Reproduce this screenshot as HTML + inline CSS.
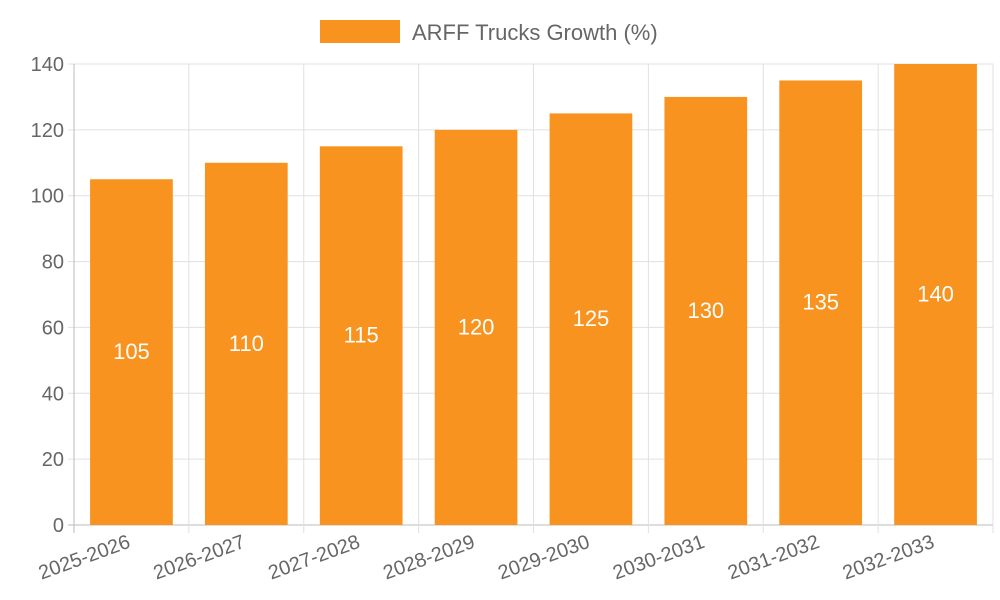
<!DOCTYPE html>
<html><head><meta charset="utf-8"><style>
html,body{margin:0;padding:0;background:#fff;}
svg{display:block;font-family:"Liberation Sans",sans-serif;}
</style></head><body>
<svg id="chart" width="1000" height="600">
<g>
<rect x="320" y="20" width="80" height="23" fill="#f7931e"/>
<text x="412" y="40" font-size="22" fill="#666">ARFF Trucks Growth (%)</text>
</g>
<g id="grid"></g><g id="bars"></g><g id="axes"></g>
</svg>
<script>
const categories=["2025-2026","2026-2027","2027-2028","2028-2029","2029-2030","2030-2031","2031-2032","2032-2033"];
const values=[105,110,115,120,125,130,135,140];
const yTicks=[0,20,40,60,80,100,120,140];
const L=74,R=993,T=64,B=525,yMax=140;
const ns="http://www.w3.org/2000/svg";
const bw=(R-L)/categories.length;
const y=v=>B-(v/yMax)*(B-T);
const x=i=>L+i*bw;
function mk(tag,attrs,parent,txt){const e=document.createElementNS(ns,tag);for(const k in attrs)e.setAttribute(k,attrs[k]);if(txt!==undefined)e.textContent=txt;parent.appendChild(e);return e;}
const grid=document.getElementById('grid'),bars=document.getElementById('bars'),axes=document.getElementById('axes');
yTicks.forEach(t=>{
 const l=mk('line',{x1:L-6,x2:R,y1:y(t),y2:y(t),stroke:t===0?'#bbb':'#e0e0e0','stroke-width':1},grid);
 
 
 const tx=mk('text',{x:L-10,y:y(t)+7,'text-anchor':'end','font-size':20,fill:'#666'},axes,String(t));
 
 
});
for(let i=0;i<=categories.length;i++){
 const l=mk('line',{x1:x(i),x2:x(i),y1:T,y2:B+8,stroke:i===0?'#bbb':'#e0e0e0','stroke-width':1},grid);
 
 
}
categories.forEach((c,i)=>{
 const w=bw*0.72,cx=x(i)+bw/2;
 const r=mk('rect',{x:cx-w/2,y:y(values[i]),width:w,height:B-y(values[i]),fill:'#f7931e'},bars);
 
 
 const v=mk('text',{x:cx,y:(y(values[i])+B)/2+7,'text-anchor':'middle','font-size':22,fill:'#fff'},bars,String(values[i]));
 
 
 const t=mk('text',{x:cx,y:B+22,'text-anchor':'end','font-size':20,fill:'#666',transform:`rotate(-20 ${cx} ${B+22})`},axes,c);
 
 
});
</script>
</body></html>
